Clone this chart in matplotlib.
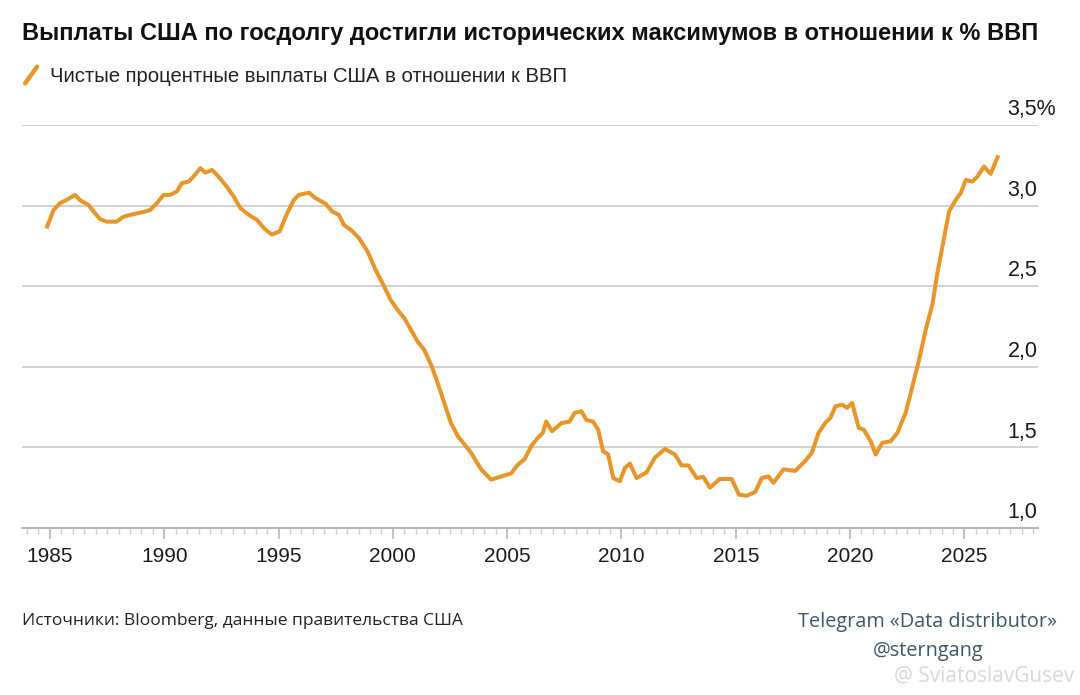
import matplotlib
matplotlib.use("Agg")
import matplotlib.pyplot as plt
from matplotlib.lines import Line2D
from matplotlib.ticker import MultipleLocator

# net interest payments, % of GDP
years = [1984.88, 1985.15, 1985.44, 1985.73, 1986.10, 1986.30, 1986.68, 1986.97, 1987.19, 1987.49,
         1987.92, 1988.20, 1988.65, 1989.09, 1989.39, 1989.68, 1989.97, 1990.26, 1990.55, 1990.77,
         1991.07, 1991.28, 1991.58, 1991.80, 1992.09, 1992.31, 1992.68, 1993.04, 1993.33, 1993.70,
         1994.06, 1994.36, 1994.70, 1995.05, 1995.38, 1995.67, 1995.89, 1996.33, 1996.62, 1997.06,
         1997.35, 1997.64, 1997.86, 1998.16, 1998.52, 1998.89, 1999.25, 1999.62, 1999.90, 2000.20,
         2000.50, 2000.79, 2001.08, 2001.37, 2001.67, 2001.96, 2002.25, 2002.54, 2002.84, 2003.13,
         2003.42, 2003.86, 2004.30, 2004.88, 2005.17, 2005.47, 2005.76, 2006.05, 2006.34, 2006.56,
         2006.71, 2006.96, 2007.37, 2007.73, 2007.95, 2008.25, 2008.47, 2008.76, 2008.98, 2009.20,
         2009.42, 2009.64, 2009.93, 2010.15, 2010.37, 2010.66, 2011.10, 2011.46, 2011.90, 2012.34,
         2012.63, 2012.93, 2013.29, 2013.58, 2013.87, 2014.30, 2014.82, 2015.14, 2015.48, 2015.85,
         2016.14, 2016.43, 2016.65, 2017.09, 2017.60, 2018.04, 2018.33, 2018.62, 2018.92, 2019.14,
         2019.36, 2019.65, 2019.87, 2020.09, 2020.38, 2020.60, 2020.90, 2021.12, 2021.41, 2021.78,
         2022.07, 2022.43, 2022.73, 2023.02, 2023.31, 2023.60, 2023.82, 2024.04, 2024.33, 2024.62,
         2024.84, 2025.06, 2025.35, 2025.57, 2025.86, 2026.15, 2026.45]
values = [2.87, 2.97, 3.015, 3.035, 3.066, 3.035, 3.004, 2.953, 2.916, 2.90,
          2.90, 2.93, 2.947, 2.96, 2.973, 3.015, 3.066, 3.066, 3.087, 3.139,
          3.149, 3.18, 3.232, 3.204, 3.221, 3.19, 3.128, 3.056, 2.984, 2.942,
          2.911, 2.86, 2.82, 2.84, 2.953, 3.035, 3.066, 3.08, 3.046, 3.011,
          2.963, 2.942, 2.88, 2.85, 2.798, 2.716, 2.60, 2.498, 2.416, 2.354,
          2.302, 2.23, 2.157, 2.106, 2.013, 1.90, 1.776, 1.652, 1.57, 1.518,
          1.467, 1.364, 1.30, 1.326, 1.338, 1.393, 1.426, 1.507, 1.559, 1.59,
          1.66, 1.60, 1.65, 1.66, 1.714, 1.724, 1.67, 1.66, 1.61, 1.476,
          1.456, 1.31, 1.29, 1.373, 1.40, 1.31, 1.345, 1.436, 1.49, 1.456,
          1.388, 1.388, 1.31, 1.317, 1.25, 1.304, 1.304, 1.207, 1.20, 1.223,
          1.31, 1.32, 1.28, 1.364, 1.354, 1.416, 1.467, 1.59, 1.652, 1.683,
          1.755, 1.765, 1.745, 1.776, 1.621, 1.61, 1.538, 1.456, 1.528, 1.538,
          1.59, 1.714, 1.88, 2.044, 2.23, 2.385, 2.581, 2.746, 2.963, 3.035,
          3.077, 3.159, 3.149, 3.18, 3.242, 3.196, 3.30]

year_ticks = [1985, 1990, 1995, 2000, 2005, 2010, 2015, 2020, 2025]
y_ticks = [1.0, 1.5, 2.0, 2.5, 3.0, 3.5]
y_labels = ["1,0", "1,5", "2,0", "2,5", "3,0", "3,5%"]

title = "Выплаты США по госдолгу достигли исторических максимумов в отношении к % ВВП"
legend_text = "Чистые процентные выплаты США в отношении к ВВП"
source = "Источники: Bloomberg, данные правительства США"

orange = "#E8962A"
grid_c = "#C9C9C9"

plt.rcParams["font.family"] = ["Liberation Sans", "DejaVu Sans"]

fig = plt.figure(figsize=(10.8, 6.95), dpi=100)
ax = fig.add_axes([0.0204, 0.2403, 0.9407, 0.5799])

ax.plot(years, values, color=orange, lw=2.9, solid_joinstyle="round", zorder=3)

ax.set_xlim(1983.78, 2028.22)
ax.set_ylim(1.0, 3.5)

for v in y_ticks[1:]:
    ax.axhline(v, color=grid_c, lw=1.2, zorder=1)
for v, lab in zip(y_ticks, y_labels):
    ax.text(0.970, v + 0.095, lab, transform=ax.get_yaxis_transform(),
            ha="left", va="center", fontsize=15.5, color="#1a1a1a")

ax.set_yticks([])
for s in ["top", "left", "right"]:
    ax.spines[s].set_visible(False)
ax.spines["bottom"].set_color("#B5B5B5")
ax.spines["bottom"].set_linewidth(1.5)

ax.set_xticks(year_ticks)
ax.set_xticklabels([str(y) for y in year_ticks])
ax.xaxis.set_minor_locator(MultipleLocator(0.5))
ax.tick_params(axis="x", which="major", length=8, width=1.2, color="#B5B5B5",
               labelsize=15, labelcolor="#1a1a1a", pad=6)
ax.tick_params(axis="x", which="minor", length=4, width=1, color="#CFCFCF")

fig.text(0.0204, 0.952, title, fontsize=17, fontweight="bold", ha="left", va="center",
         color="#111111")

fig.add_artist(Line2D([0.0232, 0.0343], [0.880, 0.904], color=orange, lw=3.2,
                      solid_capstyle="round", transform=fig.transFigure))
fig.text(0.0465, 0.890, legend_text, fontsize=14.6, ha="left", va="center", color="#222222")

fig.text(0.0204, 0.106, source, fontsize=12.5, ha="left", va="center", color="#222222",
         family=["Open Sans", "DejaVu Sans"])
fig.text(0.979, 0.105, "Telegram «Data distributor»", fontsize=14.3, ha="right", va="center",
         color="#3C5A66", family=["Open Sans", "DejaVu Sans"])
fig.text(0.859, 0.064, "@sterngang", fontsize=14.3, ha="center", va="center",
         color="#3C5A66", family=["Open Sans", "DejaVu Sans"])
fig.text(0.995, 0.028, "@ SviatoslavGusev", fontsize=15, ha="right", va="center",
         color="#D8D8D8", family=["Open Sans", "DejaVu Sans"])

fig.savefig("out.png", dpi=100, facecolor="white")
